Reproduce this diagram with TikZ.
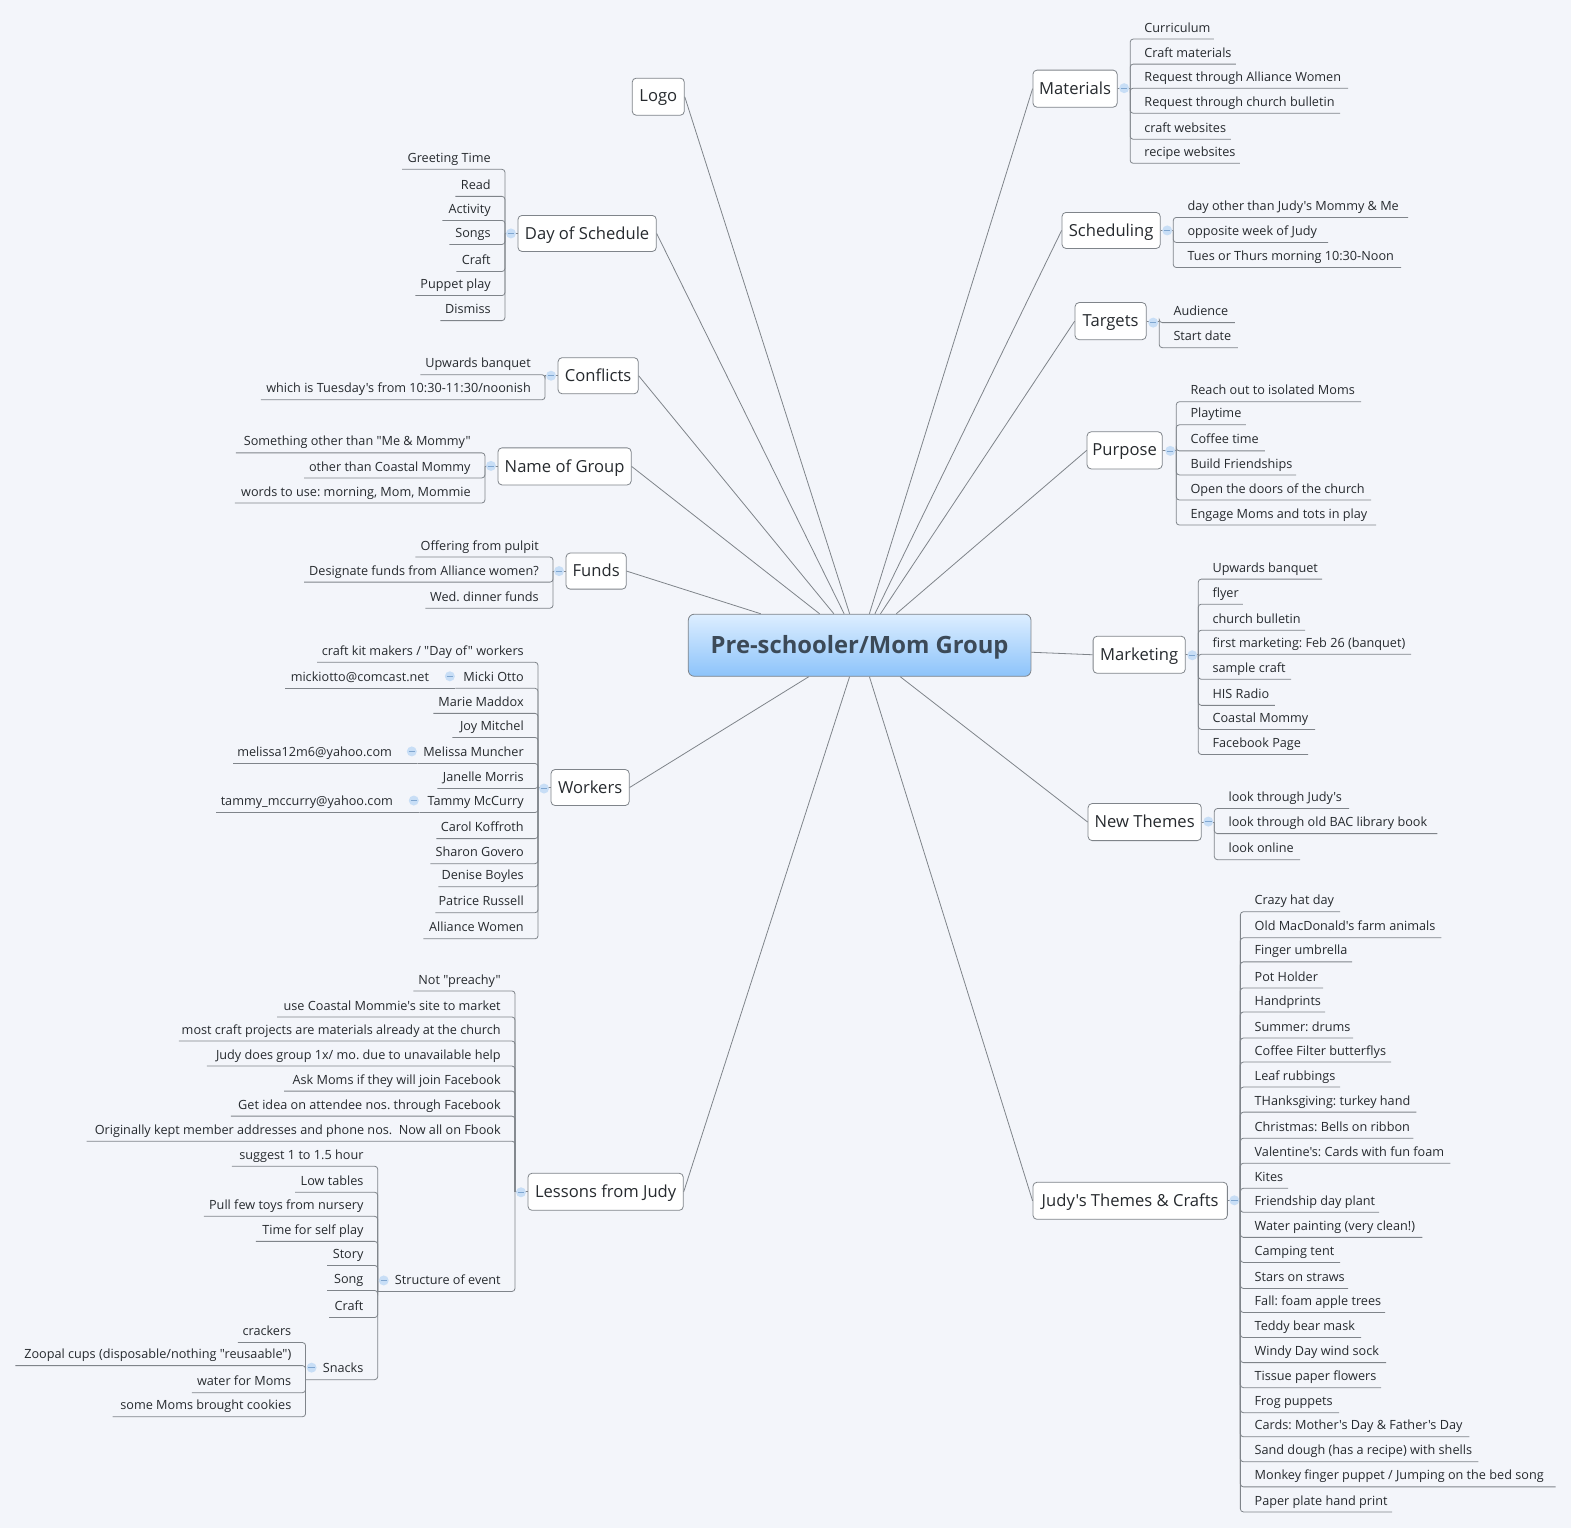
\documentclass[tikz,border=0pt]{standalone}
\usepackage{fontspec}
\newfontfamily\mmfont{Open Sans}
\frenchspacing
\newdimen\pxu \pxu=0.7515pt
\definecolor{bg}{HTML}{F3F5FA}
\definecolor{ln}{HTML}{7F848A}
\definecolor{txt}{HTML}{262A2E}
\definecolor{ttl}{HTML}{3C4A58}
\definecolor{bul}{HTML}{C8DEF6}
\definecolor{bulm}{HTML}{7FA6D0}
\definecolor{rootA}{HTML}{DDEEFF}
\definecolor{rootB}{HTML}{8CC3FA}
\tikzset{
 x=\pxu,y=-\pxu,
 conn/.style={draw=ln,line width=0.6pt},
 root/.style={draw=ln,line width=0.6pt,rounded corners=6\pxu,top color=rootA,bottom color=rootB,inner sep=0pt,font=\mmfont\fontsize{17.85}{20}\selectfont\bfseries,text=ttl},
 topic/.style={draw=ln,line width=0.6pt,fill=white,rounded corners=4\pxu,inner sep=0pt,font=\mmfont\fontsize{12.45}{15}\selectfont,text=txt},
 leaf/.style={inner sep=0pt,font=\mmfont\fontsize{9.5}{11}\selectfont,text=txt,text height=12\pxu,text depth=6.6\pxu},
 bulb/.style={circle,fill=bul,inner sep=0pt,minimum size=10\pxu,path picture={\draw[bulm,line width=0.5pt] ([xshift=-2.4pt]path picture bounding box.center) -- ([xshift=2.4pt]path picture bounding box.center);}},
}
% right leaf: {name}{parent anchor}{trunk x}{end x}{text centre y}{text}
\newcommand{\RL}[6]{%
 \pgfmathsetmacro\leafw{#4-#3}%
 \node[leaf,anchor=south west] (#1) at (#3,#5+12) {\makebox[\leafw\pxu][l]{\hspace{14\pxu}#6}};
 \draw[conn] (#2) -- (#2 -| #1.south west);
 \draw[conn,rounded corners=3\pxu] (#2 -| #1.south west) -- (#1.south west) -- (#1.south east);
}
% left leaf: {name}{parent anchor}{trunk x}{left end x}{text centre y}{text}
\newcommand{\LL}[6]{%
 \pgfmathsetmacro\leafw{#3-#4}%
 \node[leaf,anchor=south east] (#1) at (#3,#5+12) {\makebox[\leafw\pxu][r]{#6\hspace{14\pxu}}};
 \draw[conn] (#2) -- (#2 -| #1.south east);
 \draw[conn,rounded corners=3\pxu] (#2 -| #1.south east) -- (#1.south east) -- (#1.south west);
}
% left leaf continuing its parent's rule: {name}{parent}{length}{right pad}{text}
\newcommand{\LX}[5]{%
 \path (#2.south west) coordinate (#1p);
 \pgfmathsetmacro\leafw{#3}%
 \node[leaf,anchor=south east] (#1) at (#1p) {\makebox[\leafw\pxu][r]{#5\hspace{#4\pxu}}};
 \draw[conn] (#2.south west) -- (#1.south west);
}
% topic: {name}{anchor on the side facing the root}{x1}{x2}{y1}{y2}{text}
\newcommand{\Topic}[7]{%
 \pgfmathsetmacro\tw{#4-#3}%
 \pgfmathsetmacro\th{#6-#5}%
 \node[topic,minimum width=\tw\pxu,minimum height=\th\pxu,text depth=0pt] (#1) at ({(#3+#4)/2},{(#5+#6)/2}) {\raisebox{0.7\pxu}[\height][\depth]{#7}};
 \draw[conn] (root) -- (#1.#2);
}
\newcommand{\Bul}[3]{\node[bulb] (#1) at (#2,#3) {};}
\begin{document}
\begin{tikzpicture}
\fill[bg] (0,0) rectangle (1568,1525);
\useasboundingbox (0,0) rectangle (1568,1525);
\node[root,minimum width=342\pxu,minimum height=62\pxu] (root) at (858,644) {\raisebox{-2\pxu}[\height][\depth]{Pre-schooler/Mom Group}};

\Topic{logo}{east}{631}{683}{78}{115}{Logo}
\Topic{day}{east}{517}{655}{215}{251}{Day of Schedule}
\Topic{conf}{east}{557}{637}{357}{393}{Conflicts}
\Topic{name}{east}{497}{630}{447}{484}{Name of Group}
\Topic{funds}{east}{565}{625}{552}{588}{Funds}
\Topic{work}{east}{550}{628}{768}{804}{Workers}
\Topic{less}{east}{527}{682}{1171}{1208}{Lessons from Judy}
\Topic{mat}{west}{1031}{1115}{70}{107}{Materials}
\Topic{sch}{west}{1060}{1158}{212}{248}{Scheduling}
\Topic{targ}{west}{1073}{1144}{302}{339}{Targets}
\Topic{purp}{west}{1085}{1160}{431}{468}{Purpose}
\Topic{mark}{west}{1091}{1183}{635}{672}{Marketing}
\Topic{newt}{west}{1086}{1199}{802}{839}{New Themes}
\Topic{judy}{west}{1031}{1225}{1180}{1217}{Judy's Themes \& Crafts}

% Materials
\RL{ma}{mat.east}{1128}{1211}{27}{Curriculum}
\RL{mb}{mat.east}{1128}{1233}{52}{Craft materials}
\RL{mc}{mat.east}{1128}{1345}{76}{Request through Alliance Women}
\RL{md}{mat.east}{1128}{1337}{101}{Request through church bulletin}
\RL{me}{mat.east}{1128}{1228}{127}{craft websites}
\RL{mf}{mat.east}{1128}{1237}{151}{recipe websites}
% Scheduling
\RL{sa}{sch.east}{1171}{1405}{205}{day other than Judy's Mommy \& Me}
\RL{sb}{sch.east}{1171}{1325}{230}{opposite week of Judy}
\RL{sc}{sch.east}{1171}{1398}{255}{Tues or Thurs morning 10:30-Noon}
% Targets
\RL{ta}{targ.east}{1157}{1232}{310}{Audience}
\RL{tb}{targ.east}{1157}{1235}{335}{Start date}
% Purpose
\RL{pa}{purp.east}{1174}{1358}{389}{Reach out to isolated Moms}
\RL{pb}{purp.east}{1174}{1243}{412}{Playtime}
\RL{pc}{purp.east}{1174}{1262}{438}{Coffee time}
\RL{pd}{purp.east}{1174}{1293}{462}{Build Friendships}
\RL{pe}{purp.east}{1174}{1368}{487}{Open the doors of the church}
\RL{pf}{purp.east}{1174}{1373}{512}{Engage Moms and tots in play}
% Marketing
\RL{ka}{mark.east}{1196}{1319}{566}{Upwards banquet}
\RL{kb}{mark.east}{1196}{1240}{591}{flyer}
\RL{kc}{mark.east}{1196}{1302}{617}{church bulletin}
\RL{kd}{mark.east}{1196}{1408}{641}{first marketing: Feb 26 (banquet)}
\RL{ke}{mark.east}{1196}{1288}{666}{sample craft}
\RL{kf}{mark.east}{1196}{1272}{692}{HIS Radio}
\RL{kg}{mark.east}{1196}{1312}{716}{Coastal Mommy}
\RL{kh}{mark.east}{1196}{1305}{741}{Facebook Page}
% New Themes
\RL{na}{newt.east}{1212}{1346}{795}{look through Judy's}
\RL{nb}{newt.east}{1212}{1434}{820}{look through old BAC library book}
\RL{nc}{newt.east}{1212}{1297}{846}{look online}
% Judy's Themes
\RL{ja}{judy.east}{1238}{1337}{898}{Crazy hat day}
\RL{jb}{judy.east}{1238}{1438}{924}{Old MacDonald's farm animals}
\RL{jc}{judy.east}{1238}{1349}{948}{Finger umbrella}
\RL{jd}{judy.east}{1238}{1320}{974}{Pot Holder}
\RL{je}{judy.east}{1238}{1322}{998}{Handprints}
\RL{jf}{judy.east}{1238}{1350}{1024}{Summer: drums}
\RL{jg}{judy.east}{1238}{1388}{1048}{Coffee Filter butterflys}
\RL{jh}{judy.east}{1238}{1337}{1073}{Leaf rubbings}
\RL{ji}{judy.east}{1238}{1413}{1098}{THanksgiving: turkey hand}
\RL{jj}{judy.east}{1238}{1410}{1124}{Christmas: Bells on ribbon}
\RL{jk}{judy.east}{1238}{1447}{1149}{Valentine's: Cards with fun foam}
\RL{jl}{judy.east}{1238}{1285}{1174}{Kites}
\RL{jm}{judy.east}{1238}{1376}{1198}{Friendship day plant}
\RL{jn}{judy.east}{1238}{1419}{1223}{Water painting (very clean!)}
\RL{jo}{judy.east}{1238}{1337}{1248}{Camping tent}
\RL{jp}{judy.east}{1238}{1345}{1274}{Stars on straws}
\RL{jq}{judy.east}{1238}{1382}{1298}{Fall: foam apple trees}
\RL{jr}{judy.east}{1238}{1358}{1323}{Teddy bear mask}
\RL{js}{judy.east}{1238}{1383}{1348}{Windy Day wind sock}
\RL{jt}{judy.east}{1238}{1378}{1373}{Tissue paper flowers}
\RL{ju}{judy.east}{1238}{1336}{1398}{Frog puppets}
\RL{jv}{judy.east}{1238}{1466}{1422}{Cards: Mother's Day \& Father's Day}
\RL{jw}{judy.east}{1238}{1475}{1447}{Sand dough (has a recipe) with shells}
\RL{jx}{judy.east}{1238}{1552}{1472}{Monkey finger puppet / Jumping on the bed song}
\RL{jy}{judy.east}{1238}{1389}{1497}{Paper plate hand print}
% Day of Schedule
\LL{da}{day.west}{504}{402}{157}{Greeting Time}
\LL{db}{day.west}{504}{455}{184}{Read}
\LL{dc}{day.west}{504}{442}{208}{Activity}
\LL{dd}{day.west}{504}{449}{232}{Songs}
\LL{de}{day.west}{504}{456}{259}{Craft}
\LL{df}{day.west}{504}{415}{283}{Puppet play}
\LL{dg}{day.west}{504}{440}{308}{Dismiss}
% Conflicts
\LL{ca}{conf.west}{544}{420}{362}{Upwards banquet}
\LL{cb}{conf.west}{544}{261}{387}{which is Tuesday's from 10:30-11:30/noonish}
% Name of Group
\LL{ga}{name.west}{484}{236}{440}{Something other than "Me \& Mommy"}
\LL{gb}{name.west}{484}{304}{465}{other than Coastal Mommy}
\LL{gc}{name.west}{484}{235}{490}{words to use: morning, Mom, Mommie}
% Funds
\LL{fa}{funds.west}{552}{415}{544}{Offering from pulpit}
\LL{fb}{funds.west}{552}{304}{569}{Designate funds from Alliance women?}
\LL{fc}{funds.west}{552}{425}{595}{Wed. dinner funds}
% Workers
\LL{wa}{work.west}{537}{317}{649}{craft kit makers / "Day of" workers}
\LL{wb}{work.west}{537}{455}{675}{Micki Otto}
\LX{wbb}{wb}{169}{26}{mickiotto@comcast.net}
\LL{wc}{work.west}{537}{433}{700}{Marie Maddox}
\LL{wd}{work.west}{537}{452}{724}{Joy Mitchel}
\LL{we}{work.west}{537}{417}{750}{Melissa Muncher}
\LX{wee}{we}{183}{25}{melissa12m6@yahoo.com}
\LL{wf}{work.west}{537}{437}{775}{Janelle Morris}
\LL{wg}{work.west}{537}{419}{799}{Tammy McCurry}
\LX{wgg}{wg}{202}{26}{tammy\_mccurry@yahoo.com}
\LL{wh}{work.west}{537}{436}{825}{Carol Koffroth}
\LL{wi}{work.west}{537}{430}{850}{Sharon Govero}
\LL{wj}{work.west}{537}{438}{873}{Denise Boyles}
\LL{wk}{work.west}{537}{435}{899}{Patrice Russell}
\LL{wl}{work.west}{537}{423}{925}{Alliance Women}
% Lessons from Judy
\LL{la}{less.west}{514}{413}{977}{Not "preachy"}
\LL{lb}{less.west}{514}{277}{1003}{use Coastal Mommie's site to market}
\LL{lc}{less.west}{514}{179}{1027}{most craft projects are materials already at the church}
\LL{ld}{less.west}{514}{207}{1052}{Judy does group 1x/ mo. due to unavailable help}
\LL{le}{less.west}{514}{284}{1077}{Ask Moms if they will join Facebook}
\LL{lf}{less.west}{514}{231}{1102}{Get idea on attendee nos. through Facebook}
\LL{lg}{less.west}{514}{87}{1127}{Originally kept member addresses and phone nos.\ \ Now all on Fbook}
\LL{lh}{less.west}{514}{377}{1277}{Structure of event}
% Structure of event
\LL{sta}{lh.south west}{377}{232}{1152}{suggest 1 to 1.5 hour}
\LL{stb}{lh.south west}{377}{295}{1178}{Low tables}
\LL{stc}{lh.south west}{377}{204}{1202}{Pull few toys from nursery}
\LL{std}{lh.south west}{377}{256}{1227}{Time for self play}
\LL{ste}{lh.south west}{377}{327}{1251}{Story}
\LL{stf}{lh.south west}{377}{327}{1276}{Song}
\LL{stg}{lh.south west}{377}{329}{1303}{Craft}
\LL{sth}{lh.south west}{377}{305}{1365}{Snacks}
% Snacks
\LL{ska}{sth.south west}{305}{238}{1328}{crackers}
\LL{skb}{sth.south west}{305}{16}{1351}{Zoopal cups (disposable/nothing "reusaable")}
\LL{skc}{sth.south west}{305}{192}{1378}{water for Moms}
\LL{skd}{sth.south west}{305}{113}{1402}{some Moms brought cookies}
% collapse markers
\Bul{b1}{1122}{88}\Bul{b2}{1165}{230}\Bul{b3}{1151}{322}\Bul{b4}{1168}{450}
\Bul{b5}{1190}{654}\Bul{b6}{1206}{820}\Bul{b7}{1232}{1198}
\Bul{b8}{510}{233}\Bul{b9}{550}{375}\Bul{b10}{490}{465}\Bul{b11}{558}{570}
\Bul{b12}{543}{787}\Bul{b13}{520}{1190}\Bul{b14}{383}{1278}\Bul{b15}{311}{1365}
\Bul{b16}{449}{675}\Bul{b17}{411}{750}\Bul{b18}{413}{799}
\end{tikzpicture}
\end{document}
